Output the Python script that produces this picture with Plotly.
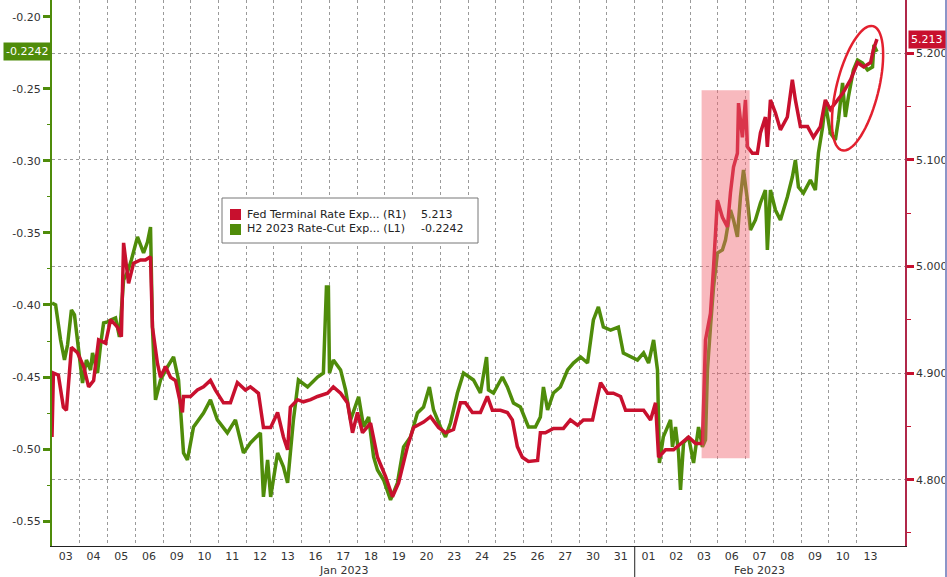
import numpy as np
import plotly.graph_objects as go

# ---------------- data ----------------
day_labels = ["03", "04", "05", "06", "09", "10", "11", "12", "13", "16", "17", "18", "19", "20",
              "23", "24", "25", "26", "27", "30", "31",
              "01", "02", "03", "06", "07", "08", "09", "10", "13"]
month_labels = ["Jan 2023", "Feb 2023"]
month_bounds = [(0, 21), (21, 30)]

# time in trading days since Jan 03 open, value
green_series = [  # H2 2023 Rate-Cut Exp (L1)
    (0.00, -0.3986), (0.13, -0.4000), (0.31, -0.4243), (0.45, -0.4382), (0.56, -0.4278), (0.70, -0.4035),
    (0.81, -0.4069), (0.92, -0.4243), (1.03, -0.4451), (1.10, -0.4541), (1.24, -0.4382), (1.39, -0.4451),
    (1.46, -0.4333), (1.64, -0.4472), (1.75, -0.4278), (1.86, -0.4125), (2.00, -0.4118), (2.11, -0.4104),
    (2.29, -0.4090), (2.43, -0.4222), (2.58, -0.3827), (2.72, -0.3771), (2.86, -0.3688), (3.08, -0.3528),
    (3.30, -0.3639), (3.44, -0.3563), (3.55, -0.3459), (3.62, -0.4153), (3.73, -0.4659), (3.91, -0.4521),
    (4.16, -0.4430), (4.38, -0.4361), (4.56, -0.4521), (4.74, -0.5027), (4.88, -0.5076), (5.10, -0.4847),
    (5.46, -0.4750), (5.71, -0.4659), (5.96, -0.4798), (6.32, -0.4888), (6.61, -0.4798), (6.90, -0.5027),
    (7.15, -0.4958), (7.51, -0.4888), (7.62, -0.5332), (7.77, -0.5076), (7.88, -0.5332), (8.13, -0.5027),
    (8.34, -0.5124), (8.49, -0.5235), (8.70, -0.4798), (8.88, -0.4521), (9.21, -0.4569), (9.57, -0.4500),
    (9.78, -0.4472), (9.89, -0.3875), (9.96, -0.3875), (10.00, -0.4472), (10.14, -0.4382), (10.40, -0.4451),
    (10.58, -0.4590), (10.76, -0.4798), (11.05, -0.4638), (11.23, -0.4847), (11.41, -0.4777), (11.59, -0.5055),
    (11.73, -0.5145), (11.95, -0.5215), (12.20, -0.5353), (12.45, -0.5235), (12.67, -0.4985), (12.92, -0.4916),
    (13.17, -0.4750), (13.39, -0.4708), (13.60, -0.4569), (13.75, -0.4729), (14.00, -0.4847), (14.18, -0.4916),
    (14.36, -0.4819), (14.61, -0.4611), (14.83, -0.4472), (15.19, -0.4521), (15.44, -0.4611), (15.66, -0.4361),
    (15.73, -0.4590), (15.91, -0.4611), (16.23, -0.4500), (16.41, -0.4569), (16.63, -0.4680), (16.88, -0.4708),
    (17.17, -0.4847), (17.42, -0.4847), (17.60, -0.4777), (17.71, -0.4569), (17.86, -0.4729), (18.07, -0.4611),
    (18.32, -0.4569), (18.58, -0.4451), (18.79, -0.4403), (19.05, -0.4361), (19.30, -0.4403), (19.51, -0.4104),
    (19.69, -0.4014), (19.87, -0.4153), (20.13, -0.4174), (20.41, -0.4153), (20.59, -0.4333), (20.85, -0.4361),
    (21.10, -0.4382), (21.32, -0.4333), (21.50, -0.4403), (21.68, -0.4243), (21.82, -0.4451), (21.89, -0.5097),
    (22.03, -0.4916), (22.29, -0.4798), (22.36, -0.4985), (22.47, -0.4847), (22.58, -0.5027), (22.65, -0.5284),
    (22.76, -0.4958), (22.94, -0.4916), (23.12, -0.5097), (23.30, -0.4847), (23.44, -0.4985), (23.55, -0.4937),
    (23.62, -0.4451), (23.73, -0.4153), (23.84, -0.3875), (23.98, -0.3639), (24.16, -0.3618), (24.27, -0.3549),
    (24.45, -0.3341), (24.56, -0.3410), (24.70, -0.3528), (24.81, -0.3250), (24.92, -0.3063), (25.06, -0.3271),
    (25.17, -0.3480), (25.35, -0.3410), (25.53, -0.3292), (25.71, -0.3202), (25.78, -0.3618), (25.89, -0.3202),
    (26.07, -0.3341), (26.25, -0.3410), (26.50, -0.3250), (26.68, -0.3112), (26.79, -0.2994), (26.90, -0.3181),
    (27.08, -0.3223), (27.33, -0.3133), (27.51, -0.3202), (27.62, -0.2945), (27.77, -0.2765), (27.87, -0.2598),
    (28.05, -0.2806), (28.23, -0.2855), (28.34, -0.2716), (28.49, -0.2459), (28.59, -0.2695), (28.70, -0.2556),
    (28.88, -0.2369), (29.03, -0.2300), (29.21, -0.2321), (29.39, -0.2369), (29.57, -0.2348), (29.62, -0.2195),
    (29.73, -0.2242),
]

red_series = [  # Fed Terminal Rate Exp (R1)
    (0.00, 4.840), (0.05, 4.900), (0.23, 4.898), (0.41, 4.868), (0.52, 4.865), (0.70, 4.924), (0.92, 4.919),
    (1.14, 4.906), (1.32, 4.887), (1.50, 4.893), (1.68, 4.931), (1.93, 4.928), (2.11, 4.950), (2.36, 4.943),
    (2.50, 4.934), (2.58, 5.022), (2.76, 4.984), (2.94, 5.003), (3.19, 5.006), (3.37, 5.006), (3.55, 5.009),
    (3.62, 4.943), (3.80, 4.909), (3.91, 4.896), (4.09, 4.906), (4.27, 4.896), (4.45, 4.893), (4.70, 4.863),
    (4.74, 4.878), (4.99, 4.878), (5.24, 4.884), (5.46, 4.887), (5.71, 4.893), (5.89, 4.884), (6.18, 4.872),
    (6.43, 4.872), (6.68, 4.891), (6.97, 4.884), (7.15, 4.887), (7.44, 4.881), (7.62, 4.849), (7.88, 4.849),
    (8.13, 4.863), (8.34, 4.840), (8.49, 4.828), (8.59, 4.868), (8.85, 4.875), (9.06, 4.873), (9.32, 4.875),
    (9.57, 4.878), (9.93, 4.881), (10.14, 4.887), (10.40, 4.881), (10.65, 4.872), (10.83, 4.844), (11.01, 4.863),
    (11.19, 4.844), (11.48, 4.853), (11.73, 4.821), (12.02, 4.803), (12.27, 4.784), (12.49, 4.797), (12.81, 4.831),
    (13.03, 4.849), (13.39, 4.854), (13.64, 4.859), (13.93, 4.849), (14.18, 4.844), (14.47, 4.847), (14.72, 4.872),
    (14.90, 4.872), (15.15, 4.863), (15.44, 4.863), (15.69, 4.878), (15.87, 4.865), (16.16, 4.865), (16.41, 4.863),
    (16.59, 4.856), (16.77, 4.831), (16.95, 4.821), (17.17, 4.817), (17.50, 4.818), (17.60, 4.844), (17.78, 4.844),
    (18.07, 4.848), (18.43, 4.848), (18.68, 4.856), (18.94, 4.851), (19.15, 4.856), (19.48, 4.856), (19.66, 4.878),
    (19.77, 4.891), (20.02, 4.881), (20.23, 4.881), (20.49, 4.878), (20.67, 4.865), (20.96, 4.865), (21.32, 4.865),
    (21.57, 4.856), (21.75, 4.872), (21.86, 4.821), (22.11, 4.828), (22.40, 4.828), (22.65, 4.834), (22.94, 4.840),
    (23.19, 4.834), (23.44, 4.834), (23.55, 4.931), (23.73, 4.956), (23.84, 4.999), (23.98, 5.062), (24.16, 5.046),
    (24.34, 5.037), (24.45, 5.069), (24.56, 5.093), (24.70, 5.106), (24.74, 5.153), (24.88, 5.121), (24.99, 5.156),
    (25.06, 5.112), (25.24, 5.106), (25.42, 5.106), (25.53, 5.125), (25.71, 5.140), (25.78, 5.112), (25.89, 5.156),
    (26.07, 5.144), (26.25, 5.128), (26.50, 5.140), (26.68, 5.175), (26.79, 5.156), (26.97, 5.131), (27.23, 5.131),
    (27.44, 5.121), (27.69, 5.131), (27.87, 5.156), (28.05, 5.147), (28.31, 5.156), (28.49, 5.162), (28.78, 5.175),
    (29.03, 5.191), (29.25, 5.187), (29.50, 5.191), (29.60, 5.203), (29.73, 5.213),
]

left_ticks = [-0.55, -0.50, -0.45, -0.40, -0.35, -0.30, -0.25, -0.20]
right_ticks = [4.8, 4.9, 5.0, 5.1, 5.2]
last_green = -0.2242
last_red = 5.213
highlight_span = (23.41, 25.14, 4.820, 5.165)  # days, right-axis values

# ---------------- style / layout ----------------
W, H = 947, 577
ML, MR, MT, MB = 52, 42, 0, 31
PW, PH = W - ML - MR, H - MT - MB
XR = [0, 30.74]
YL = [-0.5673, -0.1883]
YR = [4.7378, 5.2497]
RED = "#c8102e"
GREEN = "#4f8c0a"
GRID = "#9a9a9a"
TXT = "#333333"
FONT = "DejaVu Sans"

def px2x(px):
    return (px - ML) / PW

def py2y(py):
    return (MT + PH - py) / PH

gt, gv = zip(*green_series)
rt, rv = zip(*red_series)

fig = go.Figure()
fig.add_trace(go.Scatter(x=rt, y=rv, yaxis="y2", mode="lines",
                         line=dict(color=RED, width=3.5), showlegend=False, hoverinfo="skip"))
fig.add_trace(go.Scatter(x=gt, y=gv, yaxis="y", mode="lines",
                         line=dict(color=GREEN, width=3.5), showlegend=False, hoverinfo="skip"))

shapes = []
# highlight rectangle
x0, x1, y0, y1 = highlight_span
shapes.append(dict(type="rect", xref="x", yref="y2", x0=x0, x1=x1, y0=y0, y1=y1,
                   fillcolor="rgba(240,100,110,0.45)", line=dict(width=0), layer="above"))

# ellipse around the end of the series
px_per_day = PW / (XR[1] - XR[0])
px_per_val = PH / (YR[1] - YR[0])
cx, cy = 29.03, 5.167
a_px, b_px, ang = 64, 21, np.deg2rad(14)
th = np.linspace(0, 2 * np.pi, 73)
ux, uy = np.sin(ang), -np.cos(ang)
vx, vy = np.cos(ang), np.sin(ang)
dx = a_px * np.cos(th) * ux + b_px * np.sin(th) * vx
dy = a_px * np.cos(th) * uy + b_px * np.sin(th) * vy
ex = cx + dx / px_per_day
ey = cy - dy / px_per_val
path = "M " + " L ".join(f"{x:.4f},{y:.5f}" for x, y in zip(ex, ey)) + " Z"
shapes.append(dict(type="path", xref="x", yref="y2", path=path,
                   line=dict(color="#e3202f", width=2.5), layer="above"))

# month separator below axis
shapes.append(dict(type="line", xref="x", yref="paper", x0=month_bounds[1][0], x1=month_bounds[1][0],
                   y0=py2y(H), y1=0, line=dict(color="#222222", width=1)))
# right-edge frame
shapes.append(dict(type="line", xref="paper", yref="paper", x0=px2x(946), x1=px2x(946),
                   y0=py2y(H), y1=1, line=dict(color="#8c95c8", width=2)))

# legend box
shapes.append(dict(type="rect", xref="paper", yref="paper", x0=px2x(222), x1=px2x(478),
                   y0=py2y(243), y1=py2y(198), fillcolor="white",
                   line=dict(color="#777777", width=1), layer="above"))
shapes.append(dict(type="rect", xref="paper", yref="paper", x0=px2x(230), x1=px2x(241),
                   y0=py2y(220), y1=py2y(209), fillcolor=RED, line=dict(width=0), layer="above"))
shapes.append(dict(type="rect", xref="paper", yref="paper", x0=px2x(230), x1=px2x(241),
                   y0=py2y(235), y1=py2y(224), fillcolor=GREEN, line=dict(width=0), layer="above"))

annotations = []
annotations.append(dict(xref="paper", yref="paper", x=px2x(245), y=py2y(221), xanchor="left", yanchor="middle",
                        align="left", showarrow=False, font=dict(family=FONT, size=11, color="#222"),
                        text="Fed Terminal Rate Exp... (R1)<br>H2 2023 Rate-Cut Exp... (L1)"))
annotations.append(dict(xref="paper", yref="paper", x=px2x(419), y=py2y(221), xanchor="left", yanchor="middle",
                        align="left", showarrow=False, font=dict(family=FONT, size=11, color="#222"),
                        text=f"{last_red:.3f}<br>{last_green:.4f}"))
# month labels
for lab, (m0, m1) in zip(month_labels, month_bounds):
    annotations.append(dict(xref="x", yref="paper", x=(m0 + m1) / 2, y=0, yanchor="top", yshift=-16,
                            showarrow=False, text=lab, font=dict(family=FONT, size=11, color=TXT)))
# last value badges
annotations.append(dict(xref="paper", yref="y", x=0, y=last_green, xanchor="right", yanchor="middle",
                        xshift=-1, showarrow=False, text=f"{last_green:.4f}", bgcolor=GREEN,
                        borderpad=2, font=dict(family=FONT, size=11, color="white")))
annotations.append(dict(xref="paper", yref="y2", x=1, y=last_red, xanchor="left", yanchor="middle",
                        xshift=3, showarrow=False, text=f"{last_red:.3f}", bgcolor=RED,
                        borderpad=2, font=dict(family=FONT, size=11, color="white")))

fig.update_layout(
    width=W, height=H, autosize=False,
    margin=dict(l=ML, r=MR, t=MT, b=MB, pad=0),
    paper_bgcolor="white", plot_bgcolor="white",
    font=dict(family=FONT, size=11, color=TXT),
    showlegend=False,
    shapes=shapes, annotations=annotations,
    xaxis=dict(range=XR, tickmode="array", tickvals=[i + 0.5 for i in range(len(day_labels))],
               ticktext=day_labels, ticks="", showgrid=False, zeroline=False,
               showline=True, linecolor="#222222", linewidth=1,
               tickfont=dict(family=FONT, size=11, color=TXT),
               minor=dict(tickmode="array", tickvals=list(range(1, len(day_labels))), ticks="",
                          showgrid=True, gridcolor=GRID, griddash="dot", gridwidth=1)),
    yaxis=dict(range=YL, side="left", tickmode="array", tickvals=left_ticks,
               ticktext=[f"{v:.2f}" for v in left_ticks], ticks="outside", ticklen=7, tickwidth=3,
               tickcolor=GREEN, showline=True, linecolor=GREEN, linewidth=2, showgrid=False,
               zeroline=False, tickfont=dict(family=FONT, size=11, color=TXT),
               minor=dict(tickmode="array", tickvals=[v + 0.025 for v in left_ticks[:-1]],
                          ticks="outside", ticklen=3, tickwidth=1, tickcolor=GREEN, showgrid=False)),
    yaxis2=dict(range=YR, side="right", overlaying="y", tickmode="array", tickvals=right_ticks,
                ticktext=[f"{v:.3f}" for v in right_ticks], ticks="outside", ticklen=7, tickwidth=3,
                tickcolor=RED, showline=True, linecolor="#b0284a", linewidth=1.5, showgrid=True,
                gridcolor=GRID, griddash="dot", gridwidth=1, zeroline=False,
                tickfont=dict(family=FONT, size=11, color=TXT),
                minor=dict(tickmode="array", tickvals=[4.75, 4.85, 4.95, 5.05, 5.15],
                           ticks="outside", ticklen=4, tickwidth=1, tickcolor=RED, showgrid=False)),
)

fig.write_html("out.html")
